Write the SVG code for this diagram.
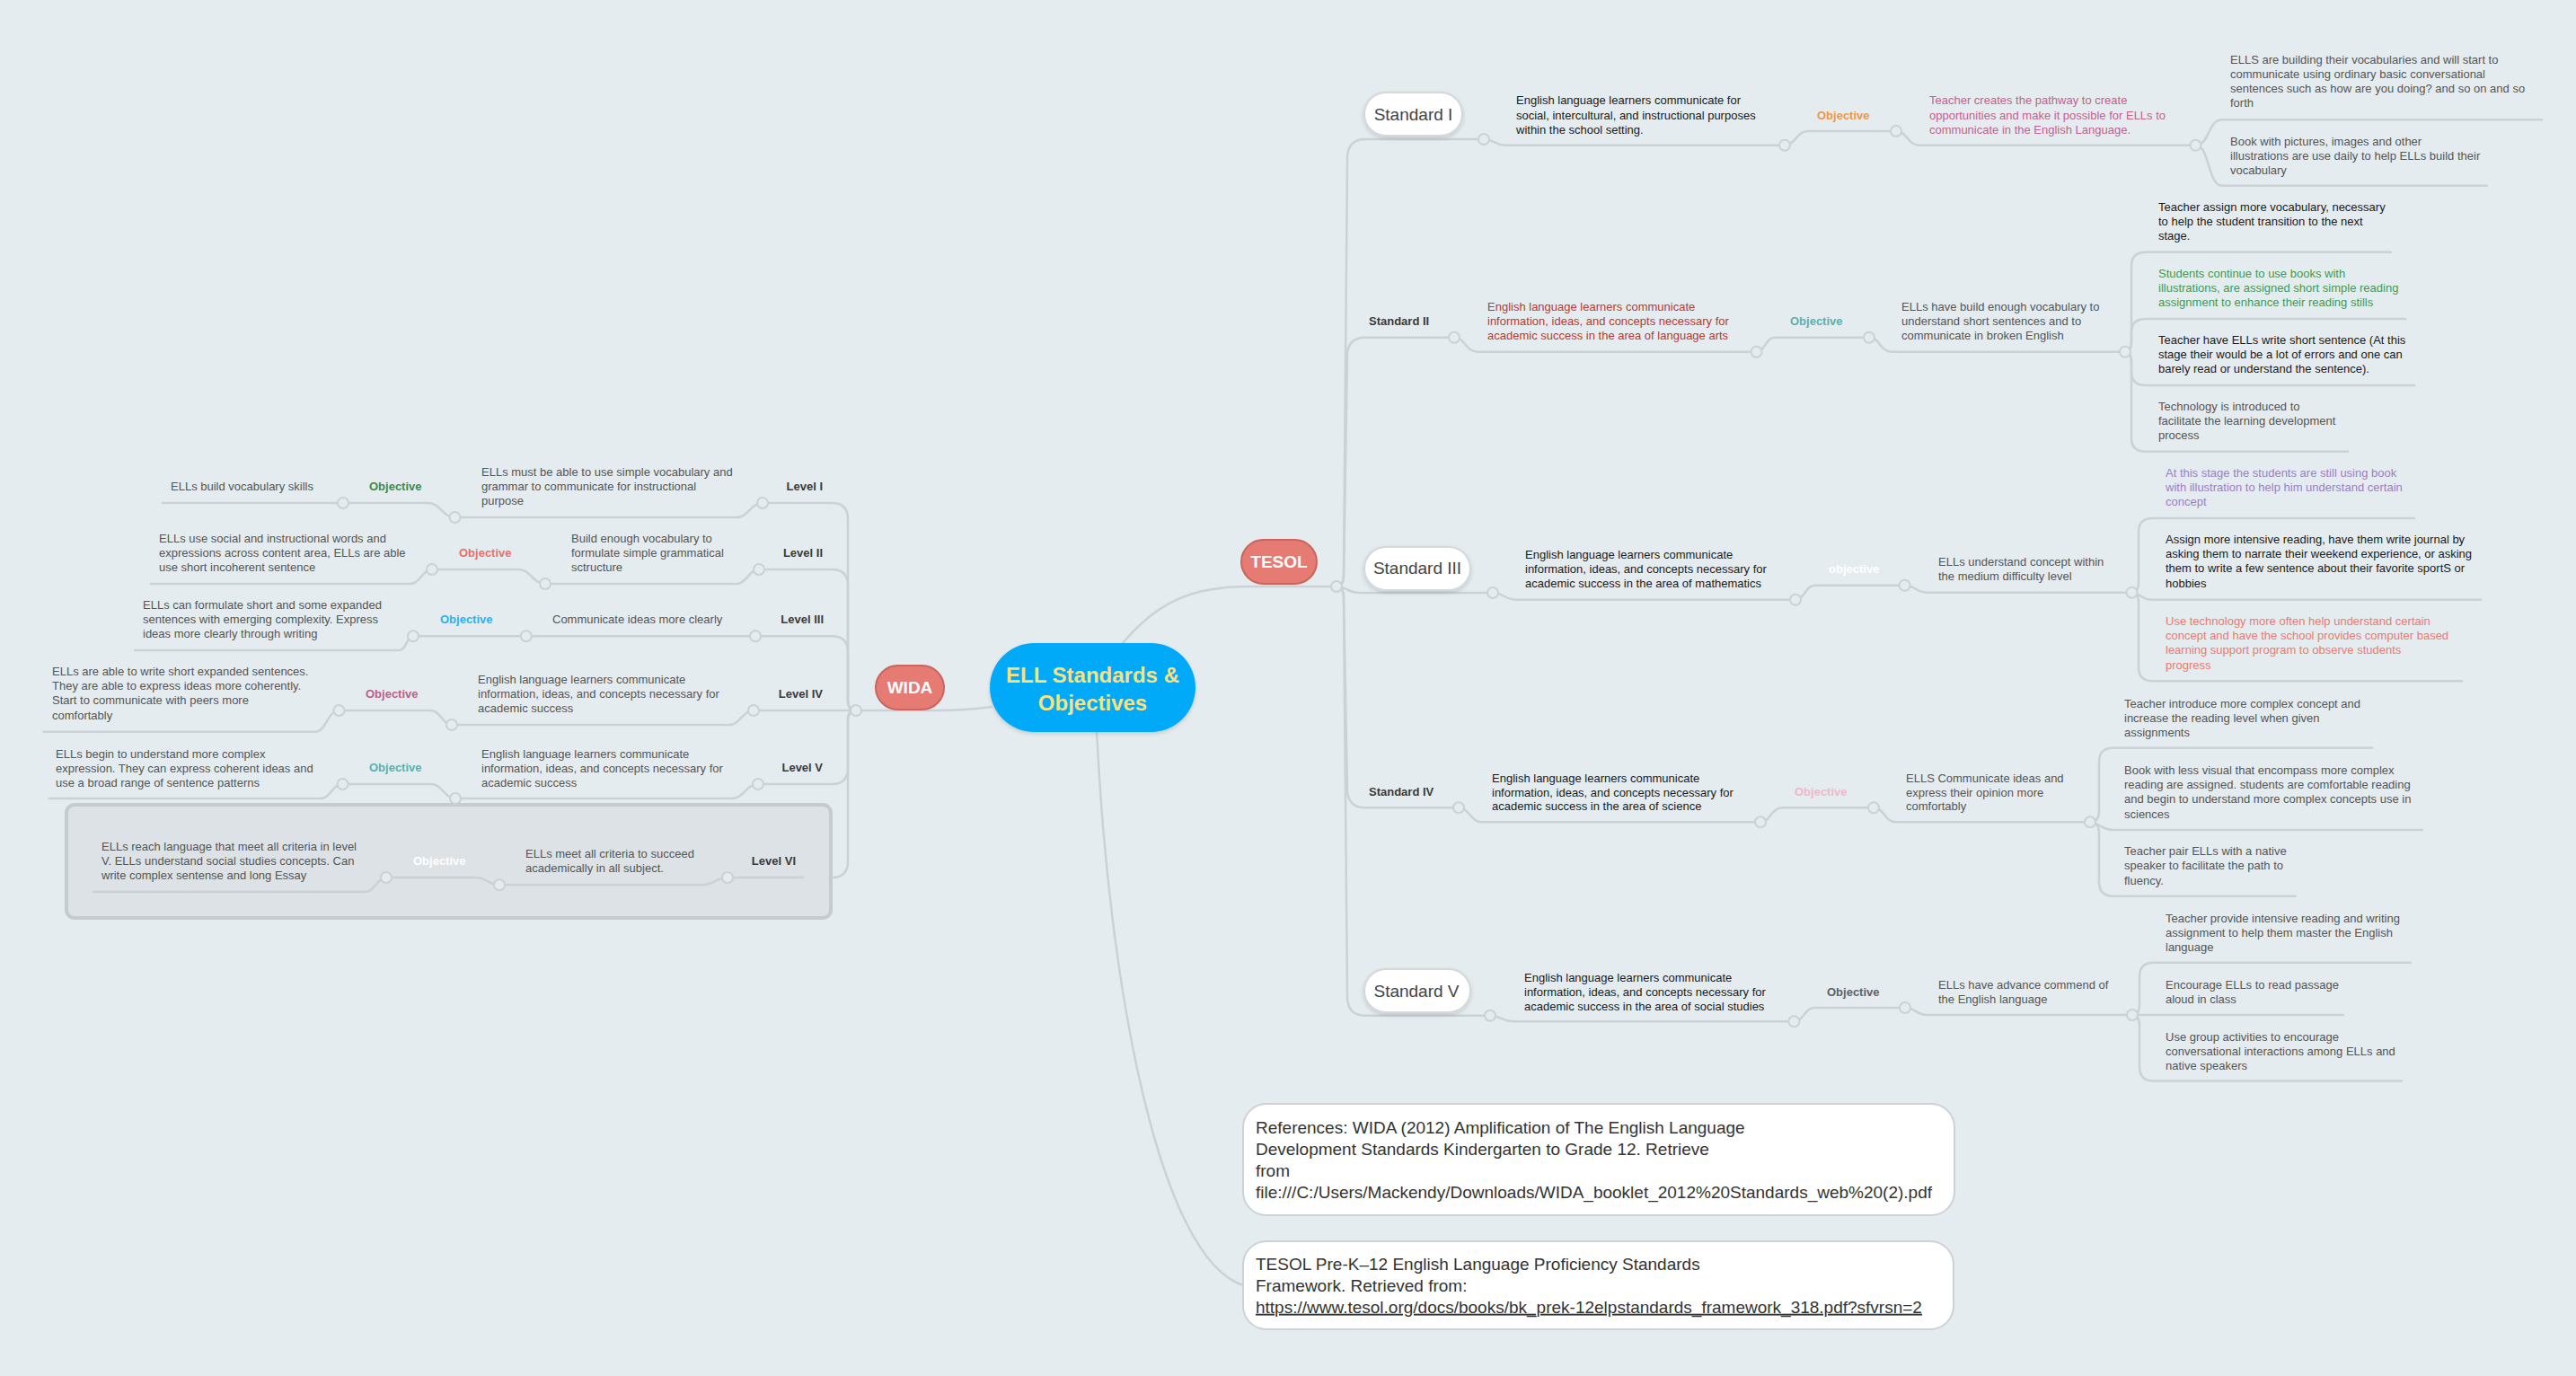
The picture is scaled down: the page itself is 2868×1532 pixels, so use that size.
<svg xmlns="http://www.w3.org/2000/svg" width="2868" height="1532" viewBox="0 0 2868 1532">
<defs>
<style>
.ln{fill:none;stroke:#CBD1D5;stroke-width:2.5;stroke-linecap:round}
.dot{fill:#E4ECF0;stroke:#CBD1D5;stroke-width:2}
text{font-family:"Liberation Sans",Arial,sans-serif}
.t{font-size:13px;fill:#555}
.k{font-size:13px;fill:#1a1a1a}
.ob{font-size:13px;font-weight:bold}
.lv{font-size:13px;font-weight:bold;fill:#3a3a3a}
.pill{fill:#FFFFFF;stroke:#D3D8DB;stroke-width:2}
.st{font-size:19px;fill:#444;text-anchor:middle}
.ref{fill:#FFFFFF;stroke:#CCD2D5;stroke-width:2}
.rt{font-size:19px;fill:#333}
</style>
<filter id="sh" x="-20%" y="-20%" width="140%" height="160%">
<feDropShadow dx="0" dy="2" stdDeviation="2" flood-color="#000" flood-opacity="0.15"/>
</filter>
</defs>
<rect width="2868" height="1532" fill="#E4ECF0"/>

<g id="level6-box">
<rect x="74" y="896" width="851" height="126" rx="9" fill="#DCE2E6" stroke="#C6CBCE" stroke-width="4"/>
</g>

<g id="connectors">
<path class="ln" d="M1104 787 Q1075 791 1040 791 L953 791"/>
<path class="ln" d="M1249 717 C1290 668 1330 653 1390 653 L1488 653"/>
<path class="ln" d="M1221 815 C1235 1100 1290 1400 1384 1431"/>
<!-- WIDA trunk -->
<path class="ln" d="M953 791 Q944 791 944 780 L944 578 Q944 560 926 560 L849 560"/>
<path class="ln" d="M953 791 Q944 791 944 780 L944 652 Q944 634 926 634 L845 634"/>
<path class="ln" d="M953 791 Q944 791 944 780 L944 726 Q944 708.3 926 708.3 L841 708.3"/>
<path class="ln" d="M953 791 L839 791"/>
<path class="ln" d="M953 791 Q944 791 944 802 L944 855 Q944 873 926 873 L844 873"/>
<path class="ln" d="M953 791 Q944 791 944 802 L944 959 Q944 977 926 977"/>
<path class="ln" d="M894 977 L810 977"/>
<!-- WIDA children -->
<path class="ln" d="M849 560 C836 560 833 576 820.5 576 L506.5 576"/>
<path class="ln" d="M506.5 576 C493 576 490 560 477 560 L382 560"/>
<path class="ln" d="M382 560 L181 560"/>
<path class="ln" d="M845 634 C834 634 831 650 820.5 650 L607 650"/>
<path class="ln" d="M607 650 C593 650 591 634 577 634 L481 634"/>
<path class="ln" d="M481 634 C470 634 468 650 456.7 650 L168 650"/>
<path class="ln" d="M841 708.3 L585.8 708.3"/>
<path class="ln" d="M585.8 708.3 L460 708.3"/>
<path class="ln" d="M460 708.3 C453 708.3 452 724 445 724 L150 724"/>
<path class="ln" d="M839 791 C827 791 824 807 811.7 807 L503 807"/>
<path class="ln" d="M503 807 C493 807 490 791 480 791 L377.4 791"/>
<path class="ln" d="M377.4 791 C365 791 363 814.7 351 814.7 L48.8 814.7"/>
<path class="ln" d="M844 873 C831 873 828 889 814.6 889 L507 889"/>
<path class="ln" d="M507 889 C495 889 492 873 480 873 L381.5 873"/>
<path class="ln" d="M381.5 873 C370 873 368 889 357 889 L54.7 889"/>
<path class="ln" d="M810 977 C797 977 795 985.3 782 985.3 L556 985.3"/>
<path class="ln" d="M556 985.3 C544 985.3 542 977 530 977 L430 977"/>
<path class="ln" d="M430 977 C420 977 417 993 406.8 993 L104 993"/>
<!-- TESOL trunk -->
<path class="ln" d="M1488 653 Q1496 653 1496 640 L1500 175 Q1501 155 1520 155 L1652 155"/>
<path class="ln" d="M1488 653 Q1496 653 1496 640 L1500 395 Q1501 375.7 1520 375.7 L1619 375.7"/>
<path class="ln" d="M1488 653 C1500 653 1500 660 1514 660 L1662 660"/>
<path class="ln" d="M1488 653 Q1496 653 1496 666 L1500 880 Q1501 899.3 1520 899.3 L1624 899.3"/>
<path class="ln" d="M1488 653 Q1496 653 1496 666 L1500 1111 Q1501 1130.7 1520 1130.7 L1659 1130.7"/>
<!-- Standard I -->
<path class="ln" d="M1652 155 C1664 155 1664 161.7 1676 161.7 L1987 161.7"/>
<path class="ln" d="M1987 161.7 C1999 161.7 2000 146 2013 146 L2111 146"/>
<path class="ln" d="M2111 146 C2123 146 2124 161.7 2137 161.7 L2444.5 161.7"/>
<path class="ln" d="M2444.5 161.7 C2460 161.7 2458 133.3 2474 133.3 L2830 133.3"/>
<path class="ln" d="M2444.5 161.7 C2460 161.7 2458 206.7 2474 206.7 L2769 206.7"/>
<!-- Standard II -->
<path class="ln" d="M1619 375.7 C1631 375.7 1632 391.7 1645 391.7 L1955.6 391.7"/>
<path class="ln" d="M1955.6 391.7 C1965 391.7 1966 375.7 1976 375.7 L2081 375.7"/>
<path class="ln" d="M2081 375.7 C2093 375.7 2093 391.7 2106 391.7 L2366 391.7"/>
<path class="ln" d="M2366 391.7 Q2373 391.7 2373 380 L2373 296 Q2373 280.7 2389 280.7 L2662 280.7"/>
<path class="ln" d="M2366 391.7 Q2373 391.7 2373 380 L2373 370 Q2373 355 2389 355 L2678 355"/>
<path class="ln" d="M2366 391.7 Q2373 391.7 2373 403 L2373 414 Q2373 429 2389 429 L2688 429"/>
<path class="ln" d="M2366 391.7 Q2373 391.7 2373 403 L2373 488 Q2373 502.7 2389 502.7 L2614 502.7"/>
<!-- Standard III -->
<path class="ln" d="M1662 660 C1674 660 1675 667.7 1688 667.7 L1999 667.7"/>
<path class="ln" d="M1999 667.7 C2009 667.7 2010 651.7 2021 651.7 L2120.5 651.7"/>
<path class="ln" d="M2120.5 651.7 C2132 651.7 2133 659.7 2146 659.7 L2373.5 659.7"/>
<path class="ln" d="M2373.5 659.7 Q2381 659.7 2381 648 L2381 592 Q2381 577 2397 577 L2688 577"/>
<path class="ln" d="M2373.5 659.7 C2382 659.7 2384 667.7 2395 667.7 L2762 667.7"/>
<path class="ln" d="M2373.5 659.7 Q2381 659.7 2381 671 L2381 743 Q2381 758.3 2397 758.3 L2741 758.3"/>
<!-- Standard IV -->
<path class="ln" d="M1624 899.3 C1636 899.3 1637 915.3 1650 915.3 L1960 915.3"/>
<path class="ln" d="M1960 915.3 C1971 915.3 1972 899.3 1984 899.3 L2086 899.3"/>
<path class="ln" d="M2086 899.3 C2098 899.3 2098 915.3 2111 915.3 L2327 915.3"/>
<path class="ln" d="M2327 915.3 Q2337 915.3 2337 903 L2337 848 Q2337 832.7 2353 832.7 L2641 832.7"/>
<path class="ln" d="M2327 915.3 C2336 915.3 2340 924 2352 924 L2697 924"/>
<path class="ln" d="M2327 915.3 Q2337 915.3 2337 927 L2337 982 Q2337 997.7 2353 997.7 L2555.6 997.7"/>
<!-- Standard V -->
<path class="ln" d="M1659 1130.7 C1671 1130.7 1672 1137.3 1685 1137.3 L1997.4 1137.3"/>
<path class="ln" d="M1997.4 1137.3 C2008 1137.3 2009 1122 2020 1122 L2121 1122"/>
<path class="ln" d="M2121 1122 C2133 1122 2133 1130 2146 1130 L2374 1130"/>
<path class="ln" d="M2374 1130 Q2382 1130 2382 1118 L2382 1087 Q2382 1071.7 2398 1071.7 L2684 1071.7"/>
<path class="ln" d="M2374 1130 L2609 1130"/>
<path class="ln" d="M2374 1130 Q2382 1130 2382 1142 L2382 1188 Q2382 1203.6 2398 1203.6 L2674 1203.6"/>
<!-- junction dots -->
<circle class="dot" cx="953" cy="791" r="6"/>
<circle class="dot" cx="1488" cy="653" r="6"/>
<circle class="dot" cx="849" cy="560" r="6"/>
<circle class="dot" cx="845" cy="634" r="6"/>
<circle class="dot" cx="841" cy="708.3" r="6"/>
<circle class="dot" cx="839" cy="791" r="6"/>
<circle class="dot" cx="844" cy="873" r="6"/>
<circle class="dot" cx="810" cy="977" r="6"/>
<circle class="dot" cx="506.5" cy="576" r="6"/>
<circle class="dot" cx="607" cy="650" r="6"/>
<circle class="dot" cx="585.8" cy="708.3" r="6"/>
<circle class="dot" cx="503" cy="807" r="6"/>
<circle class="dot" cx="507" cy="889" r="6"/>
<circle class="dot" cx="556" cy="985.3" r="6"/>
<circle class="dot" cx="382" cy="560" r="6"/>
<circle class="dot" cx="481" cy="634" r="6"/>
<circle class="dot" cx="460" cy="708.3" r="6"/>
<circle class="dot" cx="377.4" cy="791" r="6"/>
<circle class="dot" cx="381.5" cy="873" r="6"/>
<circle class="dot" cx="430" cy="977" r="6"/>
<circle class="dot" cx="1652" cy="155" r="6"/>
<circle class="dot" cx="1619" cy="375.7" r="6"/>
<circle class="dot" cx="1662" cy="660" r="6"/>
<circle class="dot" cx="1624" cy="899.3" r="6"/>
<circle class="dot" cx="1659" cy="1130.7" r="6"/>
<circle class="dot" cx="1987" cy="161.7" r="6"/>
<circle class="dot" cx="1955.6" cy="391.7" r="6"/>
<circle class="dot" cx="1999" cy="667.7" r="6"/>
<circle class="dot" cx="1960" cy="915.3" r="6"/>
<circle class="dot" cx="1997.4" cy="1137.3" r="6"/>
<circle class="dot" cx="2111" cy="146" r="6"/>
<circle class="dot" cx="2081" cy="375.7" r="6"/>
<circle class="dot" cx="2120.5" cy="651.7" r="6"/>
<circle class="dot" cx="2086" cy="899.3" r="6"/>
<circle class="dot" cx="2121" cy="1122" r="6"/>
<circle class="dot" cx="2444.5" cy="161.7" r="6"/>
<circle class="dot" cx="2366" cy="391.7" r="6"/>
<circle class="dot" cx="2373.5" cy="659.7" r="6"/>
<circle class="dot" cx="2327" cy="915.3" r="6"/>
<circle class="dot" cx="2374" cy="1130" r="6"/>
</g>

<g id="central">
<rect x="1102" y="716" width="229" height="99" rx="49.5" fill="#03AAF9" filter="url(#sh)"/>
<text x="1216.5" y="759.5" font-size="24" font-weight="bold" fill="#FBE07E" text-anchor="middle">ELL Standards &amp;</text>
<text x="1216.5" y="790.5" font-size="24" font-weight="bold" fill="#FBE07E" text-anchor="middle">Objectives</text>
</g>

<g id="wida">
<rect x="975" y="741" width="76" height="49" rx="24.5" fill="#E67B73" stroke="#C9655E" stroke-width="2"/>
<text x="1013" y="771.5" font-size="19" font-weight="bold" fill="#FFFFFF" text-anchor="middle">WIDA</text>
</g>
<g id="tesol">
<rect x="1382" y="601" width="84" height="49" rx="24.5" fill="#E67B73" stroke="#C9655E" stroke-width="2"/>
<text x="1424" y="631.5" font-size="19" font-weight="bold" fill="#FFFFFF" text-anchor="middle">TESOL</text>
</g>

<!-- WIDA levels -->
<g id="level1">
<text class="lv" x="916" y="546" text-anchor="end">Level I</text>
<text class="t"><tspan x="536" y="530">ELLs must be able to use simple vocabulary and</tspan><tspan x="536" y="546">grammar to communicate for instructional</tspan><tspan x="536" y="562">purpose</tspan></text>
<text class="ob" x="411" y="546" fill="#3D8B4D">Objective</text>
<text class="t" x="190" y="546">ELLs build vocabulary skills</text>
</g>
<g id="level2">
<text class="lv" x="916" y="620" text-anchor="end">Level II</text>
<text class="t"><tspan x="636" y="604">Build enough vocabulary to</tspan><tspan x="636" y="620">formulate simple grammatical</tspan><tspan x="636" y="636">sctructure</tspan></text>
<text class="ob" x="511" y="620" fill="#E8716B">Objective</text>
<text class="t"><tspan x="177" y="604">ELLs use social and instructional words and</tspan><tspan x="177" y="620">expressions across content area, ELLs are able</tspan><tspan x="177" y="636">use short incoherent sentence</tspan></text>
</g>
<g id="level3">
<text class="lv" x="917" y="694" text-anchor="end">Level III</text>
<text class="t" x="615" y="694">Communicate ideas more clearly</text>
<text class="ob" x="490" y="694" fill="#2DB1F1">Objective</text>
<text class="t"><tspan x="159" y="678">ELLs can formulate short and some expanded</tspan><tspan x="159" y="694">sentences with emerging complexity. Express</tspan><tspan x="159" y="710">ideas more clearly through writing</tspan></text>
</g>
<g id="level4">
<text class="lv" x="916" y="777" text-anchor="end">Level IV</text>
<text class="t"><tspan x="532" y="761">English language learners communicate</tspan><tspan x="532" y="777">information, ideas, and concepts necessary for</tspan><tspan x="532" y="793">academic success</tspan></text>
<text class="ob" x="407" y="777" fill="#BC5F89">Objective</text>
<text class="t"><tspan x="58" y="752">ELLs are able to write short expanded sentences.</tspan><tspan x="58" y="768">They are able to express ideas more coherently.</tspan><tspan x="58" y="784">Start to communicate with peers more</tspan><tspan x="58" y="801">comfortably</tspan></text>
</g>
<g id="level5">
<text class="lv" x="916" y="859" text-anchor="end">Level V</text>
<text class="t"><tspan x="536" y="843.5">English language learners communicate</tspan><tspan x="536" y="859.5">information, ideas, and concepts necessary for</tspan><tspan x="536" y="875.5">academic success</tspan></text>
<text class="ob" x="411" y="859" fill="#5BB1AD">Objective</text>
<text class="t"><tspan x="62" y="843.5">ELLs begin to understand more complex</tspan><tspan x="62" y="859.5">expression. They can express coherent ideas and</tspan><tspan x="62" y="875.5">use a broad range of sentence patterns</tspan></text>
</g>
<g id="level6">
<text class="lv" x="886" y="963" text-anchor="end" fill="#111">Level VI</text>
<text class="t"><tspan x="585" y="955">ELLs meet all criteria to succeed</tspan><tspan x="585" y="971">academically in all subject.</tspan></text>
<text class="ob" x="460" y="963" fill="#FFFFFF">Objective</text>
<text class="t"><tspan x="113" y="947">ELLs reach language that meet all criteria in level</tspan><tspan x="113" y="963">V. ELLs understand social studies concepts. Can</tspan><tspan x="113" y="979">write complex sentense and long Essay</tspan></text>
</g>

<!-- TESOL standards -->
<g id="standard1">
<rect class="pill" x="1519" y="103" width="109" height="48" rx="24" filter="url(#sh)"/>
<text class="st" x="1573.5" y="134">Standard I</text>
<text class="k"><tspan x="1688" y="116.2">English language learners communicate for</tspan><tspan x="1688" y="132.5">social, intercultural, and instructional purposes</tspan><tspan x="1688" y="148.8">within the school setting.</tspan></text>
<text class="ob" x="2023" y="132.5" fill="#EE9848">Objective</text>
<text class="t" style="fill:#C2628E"><tspan x="2148" y="116.2">Teacher creates the pathway to create</tspan><tspan x="2148" y="132.5">opportunities  and make it possible for ELLs to</tspan><tspan x="2148" y="148.8">communicate in the English Language.</tspan></text>
<text class="t"><tspan x="2483" y="70.5">ELLS are building their vocabularies and will start to</tspan><tspan x="2483" y="86.8">communicate using ordinary basic conversational</tspan><tspan x="2483" y="103">sentences such as how are you doing?  and so on and so</tspan><tspan x="2483" y="119.3">forth</tspan></text>
<text class="t"><tspan x="2483" y="161.5">Book with pictures, images and other</tspan><tspan x="2483" y="177.7">illustrations are use daily to help ELLs build their</tspan><tspan x="2483" y="194">vocabulary</tspan></text>
</g>
<g id="standard2">
<text class="lv" x="1524" y="362.2">Standard II</text>
<text class="t" style="fill:#B63A33"><tspan x="1656" y="346.2">English language learners communicate</tspan><tspan x="1656" y="362.2">information, ideas, and concepts necessary for</tspan><tspan x="1656" y="378.2">academic success in the area of language arts</tspan></text>
<text class="ob" x="1993" y="362.2" fill="#5BB1AD">Objective</text>
<text class="t"><tspan x="2117" y="346.2">ELLs have build enough vocabulary to</tspan><tspan x="2117" y="362.2">understand short sentences and to</tspan><tspan x="2117" y="378.2">communicate in broken English</tspan></text>
<text class="k"><tspan x="2403" y="235.2">Teacher assign more vocabulary, necessary</tspan><tspan x="2403" y="251.2">to help the student transition to the next</tspan><tspan x="2403" y="267.2">stage.</tspan></text>
<text class="t" style="fill:#3F9A52"><tspan x="2403" y="308.8">Students continue to use books with</tspan><tspan x="2403" y="324.8">illustrations, are assigned short simple reading</tspan><tspan x="2403" y="340.8">assignment to enhance their reading stills</tspan></text>
<text class="k"><tspan x="2403" y="382.8">Teacher have ELLs write short sentence (At this</tspan><tspan x="2403" y="399">stage their would be a lot of errors and one can</tspan><tspan x="2403" y="415.2">barely read or understand the sentence).</tspan></text>
<text class="t"><tspan x="2403" y="456.8">Technology is introduced to</tspan><tspan x="2403" y="473.2">facilitate the learning development</tspan><tspan x="2403" y="489.2">process</tspan></text>
</g>
<g id="standard3">
<rect class="pill" x="1519" y="609" width="118" height="48" rx="24" filter="url(#sh)"/>
<text class="st" x="1578" y="639.4">Standard III</text>
<text class="k"><tspan x="1698" y="622.2">English language learners communicate</tspan><tspan x="1698" y="638.2">information, ideas, and concepts necessary for</tspan><tspan x="1698" y="654.2">academic success in the area of mathematics</tspan></text>
<text class="ob" x="2036" y="638.2" fill="#FFFFFF">objective</text>
<text class="t"><tspan x="2158" y="630.2">ELLs understand concept within</tspan><tspan x="2158" y="646.2">the medium difficulty level</tspan></text>
<text class="t" style="fill:#9A80C4"><tspan x="2411" y="530.8">At this stage the students are still using book</tspan><tspan x="2411" y="546.8">with illustration to help him understand certain</tspan><tspan x="2411" y="563.2">concept</tspan></text>
<text class="k"><tspan x="2411" y="605.2">Assign more intensive reading, have them write journal by</tspan><tspan x="2411" y="621.2">asking them to narrate their weekend experience, or asking</tspan><tspan x="2411" y="637.2">them to write a few sentence about their favorite sportS or</tspan><tspan x="2411" y="654.2">hobbies</tspan></text>
<text class="t" style="fill:#EC7A6E"><tspan x="2411" y="696.2">Use technology more often help understand certain</tspan><tspan x="2411" y="712.2">concept and have the school provides computer based</tspan><tspan x="2411" y="728.2">learning support program to observe students</tspan><tspan x="2411" y="744.8">progress</tspan></text>
</g>
<g id="standard4">
<text class="lv" x="1524" y="886.2">Standard IV</text>
<text class="k"><tspan x="1661" y="870.5">English language learners communicate</tspan><tspan x="1661" y="886.5">information, ideas, and concepts necessary for</tspan><tspan x="1661" y="902.2">academic success in the area of science</tspan></text>
<text class="ob" x="1998" y="886.2" fill="#F0B8C9">Objective</text>
<text class="t"><tspan x="2122" y="870.5">ELLS Communicate ideas and</tspan><tspan x="2122" y="886.5">express their opinion more</tspan><tspan x="2122" y="902.2">comfortably</tspan></text>
<text class="t"><tspan x="2365" y="787.8">Teacher introduce more complex concept and</tspan><tspan x="2365" y="803.8">increase the reading level when given</tspan><tspan x="2365" y="819.5">assignments</tspan></text>
<text class="t"><tspan x="2365" y="861.8">Book with less visual that encompass more complex</tspan><tspan x="2365" y="877.8">reading are assigned.  students are comfortable reading</tspan><tspan x="2365" y="893.8">and begin to understand more complex concepts use in</tspan><tspan x="2365" y="910.5">sciences</tspan></text>
<text class="t"><tspan x="2365" y="952.2">Teacher pair ELLs  with a native</tspan><tspan x="2365" y="968.2">speaker to facilitate the path to</tspan><tspan x="2365" y="984.5">fluency.</tspan></text>
</g>
<g id="standard5">
<rect class="pill" x="1519" y="1079" width="118" height="48" rx="24" filter="url(#sh)"/>
<text class="st" x="1577" y="1110">Standard V</text>
<text class="k"><tspan x="1697" y="1092.8">English language learners communicate</tspan><tspan x="1697" y="1108.5">information, ideas, and concepts necessary for</tspan><tspan x="1697" y="1124.5">academic success in the area of social studies</tspan></text>
<text class="ob" x="2034" y="1108.5" fill="#5E6265">Objective</text>
<text class="t"><tspan x="2158" y="1100.5">ELLs have advance commend of</tspan><tspan x="2158" y="1116.5">the English language</tspan></text>
<text class="t"><tspan x="2411" y="1026.8">Teacher provide intensive reading and writing</tspan><tspan x="2411" y="1042.5">assignment to help them master the English</tspan><tspan x="2411" y="1058.5">language</tspan></text>
<text class="t"><tspan x="2411" y="1100.5">Encourage ELLs to read passage</tspan><tspan x="2411" y="1116.5">aloud in class</tspan></text>
<text class="t"><tspan x="2411" y="1158.5">Use group activities to encourage</tspan><tspan x="2411" y="1174.5">conversational  interactions among ELLs and</tspan><tspan x="2411" y="1190.5">native speakers</tspan></text>
</g>

<g id="reference-wida">
<rect class="ref" x="1384" y="1229" width="792" height="124" rx="26"/>
<text class="rt"><tspan x="1398" y="1261.7">References: WIDA (2012) Amplification of The English Language</tspan><tspan x="1398" y="1285.7">Development Standards Kindergarten to Grade 12. Retrieve</tspan><tspan x="1398" y="1309.7">from</tspan><tspan x="1398" y="1333.7">file:///C:/Users/Mackendy/Downloads/WIDA_booklet_2012%20Standards_web%20(2).pdf</tspan></text>
</g>
<g id="reference-tesol">
<rect class="ref" x="1384" y="1382" width="791" height="98" rx="26"/>
<text class="rt"><tspan x="1398" y="1413.7">TESOL Pre-K–12 English Language Proficiency Standards</tspan><tspan x="1398" y="1437.7">Framework. Retrieved from:</tspan><tspan x="1398" y="1461.7" text-decoration="underline">https://www.tesol.org/docs/books/bk_prek-12elpstandards_framework_318.pdf?sfvrsn=2</tspan></text>
</g>
</svg>
